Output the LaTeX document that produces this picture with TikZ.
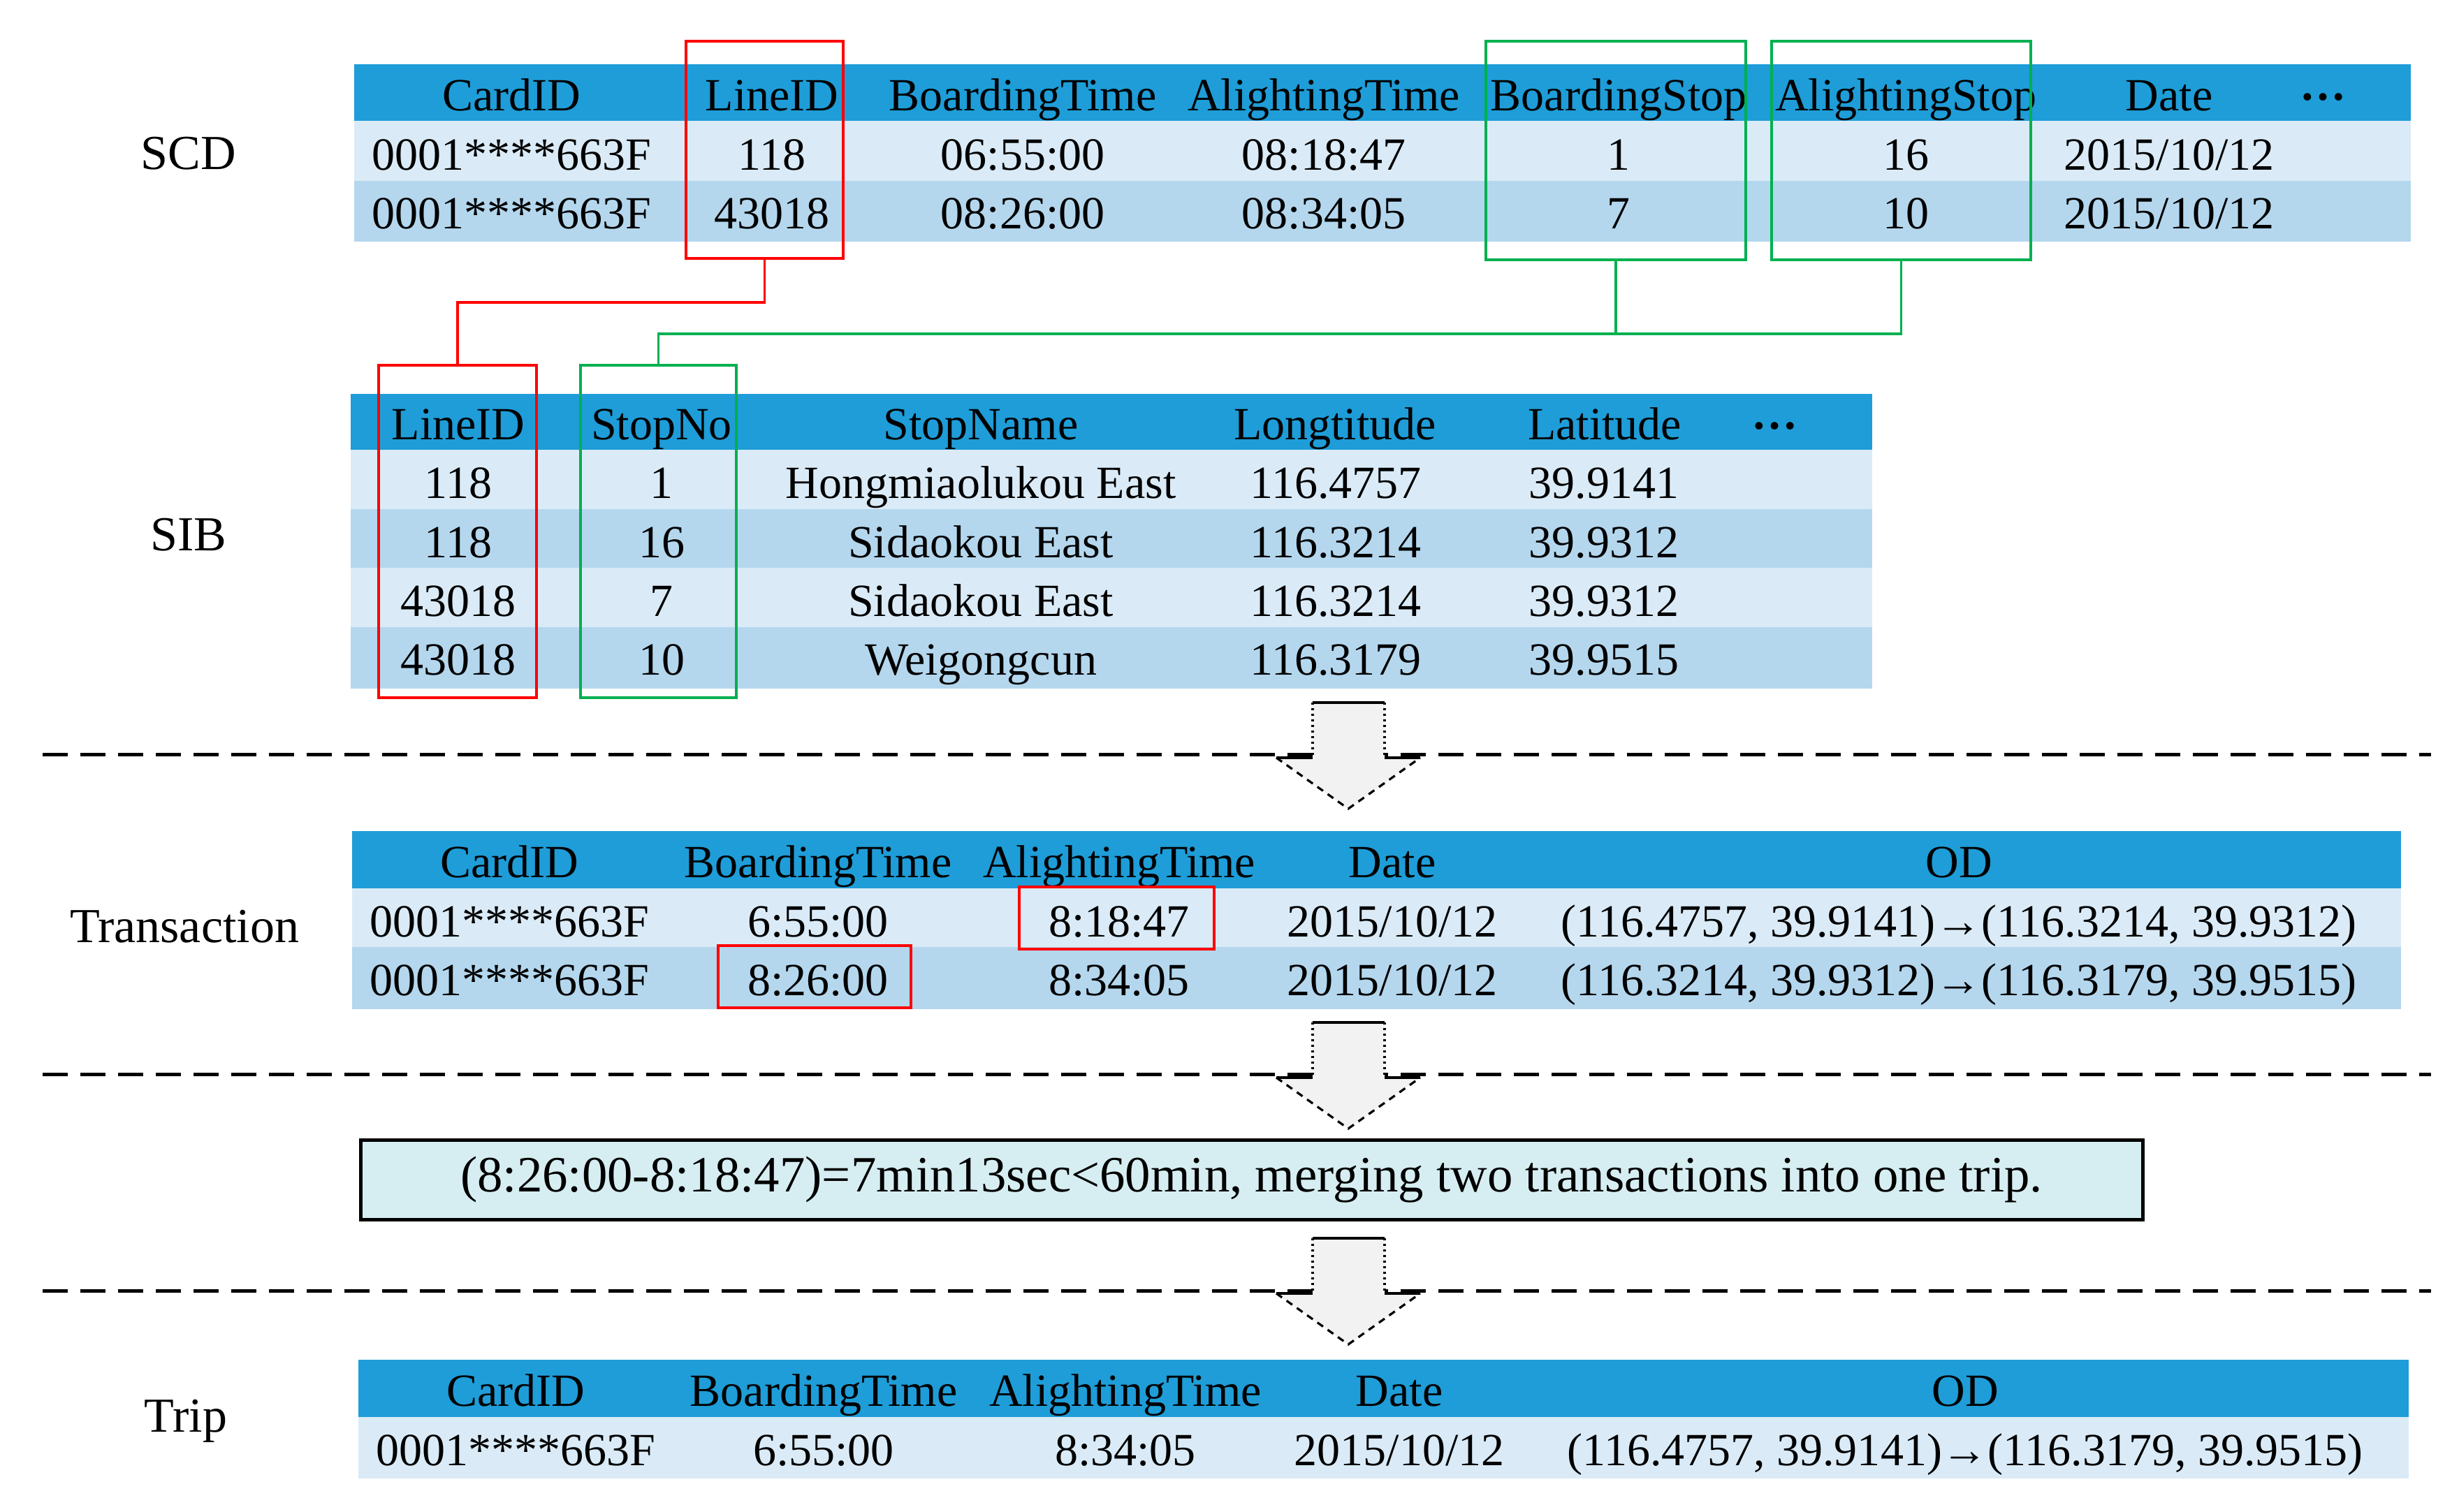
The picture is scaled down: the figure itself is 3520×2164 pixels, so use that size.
\documentclass[tikz,border=0pt]{standalone}
\usepackage{fontspec}
\setmainfont{Liberation Serif}
\usepackage{tikz}
\usetikzlibrary{arrows,shapes.arrows,positioning,shapes,calc}
\definecolor{hdblue}{RGB}{30,157,216}
\definecolor{rowlight}{RGB}{218,235,247}
\definecolor{rowdark}{RGB}{180,215,238}
\definecolor{notecyan}{RGB}{214,238,242}
\definecolor{hlgreen}{RGB}{0,176,80}
\definecolor{hlred}{RGB}{255,0,0}
\definecolor{arrowgray}{RGB}{242,242,242}

\begin{document}
\begin{tikzpicture}[x = .25pt, y = -.25pt, every node/.style={anchor = base, font = \fontsize{16.5}{19}\selectfont, inner sep = 0pt},
  hlbox/.style={draw, line width = 1pt, anchor = center, inner sep = 0pt, outer sep = 0pt},
  lbl/.style={font = \fontsize{17.5}{21}\selectfont},
  more/.style={font = \fontsize{16.5}{19}\bfseries},
  sep/.style={line width = 1.25pt, dash pattern = on 9pt off 4.5pt}]
\useasboundingbox (0,0) rectangle (3520,2164);

% SCD table
\fill[hdblue] (507,92) rectangle (3451,173);
\fill[rowlight] (507,173) rectangle (3451,259);
\fill[rowdark] (507,259) rectangle (3451,346);
\node[lbl] (scd) at (270,242) {SCD};
\node (scdh1) at (732,158) {CardID};
\node (scdh2) at (1105,158) {LineID};
\node (scdh3) at (1464,158) {BoardingTime};
\node (scdh4) at (1895,158) {AlightingTime};
\node (scdh5) at (2317,158) {BoardingStop};
\node (scdh6) at (2728,158) {AlightingStop};
\node (scdh7) at (3105,158) {Date};
\node[more] (scdh8) at (3325,158) {\raisebox{.22em}{…}};
\node (scd11) at (732,243) {0001****663F};
\node (scd12) at (1105,243) {118};
\node (scd13) at (1464,243) {06:55:00};
\node (scd14) at (1895,243) {08:18:47};
\node (scd15) at (2317,243) {1};
\node (scd16) at (2728,243) {16};
\node (scd17) at (3105,243) {2015/10/12};
\node (scd21) at (732,327) {0001****663F};
\node (scd22) at (1105,327) {43018};
\node (scd23) at (1464,327) {08:26:00};
\node (scd24) at (1895,327) {08:34:05};
\node (scd25) at (2317,327) {7};
\node (scd26) at (2728,327) {10};
\node (scd27) at (3105,327) {2015/10/12};

% SIB table
\fill[hdblue] (502,564) rectangle (2680,644);
\fill[rowlight] (502,644) rectangle (2680,729);
\fill[rowdark] (502,729) rectangle (2680,813);
\fill[rowlight] (502,813) rectangle (2680,898);
\fill[rowdark] (502,898) rectangle (2680,986);
\node[lbl] (sib) at (270,788) {SIB};
\node (sibh1) at (656,629) {LineID};
\node (sibh2) at (947,629) {StopNo};
\node (sibh3) at (1404,629) {StopName};
\node (sibh4) at (1911,629) {Longtitude};
\node (sibh5) at (2297,629) {Latitude};
\node[more] (sibh6) at (2540,629) {\raisebox{.22em}{…}};
\node (sib11) at (656,713) {118};
\node (sib12) at (947,713) {1};
\node (sib13) at (1404,713) {Hongmiaolukou East};
\node (sib14) at (1912,713) {116.4757};
\node (sib15) at (2296,713) {39.9141};
\node (sib21) at (656,798) {118};
\node (sib22) at (947,798) {16};
\node (sib23) at (1404,798) {Sidaokou East};
\node (sib24) at (1912,798) {116.3214};
\node (sib25) at (2296,798) {39.9312};
\node (sib31) at (656,882) {43018};
\node (sib32) at (947,882) {7};
\node (sib33) at (1404,882) {Sidaokou East};
\node (sib34) at (1912,882) {116.3214};
\node (sib35) at (2296,882) {39.9312};
\node (sib41) at (656,966) {43018};
\node (sib42) at (947,966) {10};
\node (sib43) at (1404,966) {Weigongcun};
\node (sib44) at (1912,966) {116.3179};
\node (sib45) at (2296,966) {39.9515};

% linking boxes
\node[hlbox, hlred, minimum width = 56.25pt, minimum height = 77.75pt] (scdline) at (1094.5,214.5) {};
\node[hlbox, hlgreen, minimum width = 93pt, minimum height = 78.25pt] (scdbstop) at (2313,215.5) {};
\node[hlbox, hlgreen, minimum width = 92.75pt, minimum height = 78.25pt] (scdastop) at (2721.5,215.5) {};
\node[hlbox, hlred, minimum width = 56.5pt, minimum height = 119pt] (sibline) at (655,761) {};
\node[hlbox, hlgreen, minimum width = 55.75pt, minimum height = 119pt] (sibstop) at (942.5,761) {};
\draw[hlred, line width = .8pt] (scdline.south) -- ++(0,63) -| (sibline.north);
\draw[hlgreen, line width = .8pt] (scdastop.south) -- ++(0,106) -| (sibstop.north);
\draw[hlgreen, line width = .8pt] (scdbstop.south) -- ++(0,106);

% separators
\draw[sep] (61,1080) -- (3480,1080);
\draw[sep] (61,1538) -- (3480,1538);
\draw[sep] (61,1848) -- (3480,1848);

% down arrows
\fill[arrowgray] (1879,1006) -- (1982,1006) -- (1982,1085) -- (2033,1085) -- (1930,1158) -- (1827,1085) -- (1879,1085) -- cycle;
\draw[thick] (1879,1006) -- (1982,1006) (1827,1085) -- (1879,1085) (1982,1085) -- (2033,1085);
\draw[thick, dash pattern = on .8pt off 1.2pt] (1879,1006) -- (1879,1085) (1982,1006) -- (1982,1085);
\draw[thick, dash pattern = on 2.5pt off 2pt] (1827,1085) -- (1930,1158) -- (2033,1085);
\fill[arrowgray] (1879,1464) -- (1982,1464) -- (1982,1543) -- (2033,1543) -- (1930,1616) -- (1827,1543) -- (1879,1543) -- cycle;
\draw[thick] (1879,1464) -- (1982,1464) (1827,1543) -- (1879,1543) (1982,1543) -- (2033,1543);
\draw[thick, dash pattern = on .8pt off 1.2pt] (1879,1464) -- (1879,1543) (1982,1464) -- (1982,1543);
\draw[thick, dash pattern = on 2.5pt off 2pt] (1827,1543) -- (1930,1616) -- (2033,1543);
\fill[arrowgray] (1879,1773) -- (1982,1773) -- (1982,1852) -- (2033,1852) -- (1930,1925) -- (1827,1852) -- (1879,1852) -- cycle;
\draw[thick] (1879,1773) -- (1982,1773) (1827,1852) -- (1879,1852) (1982,1852) -- (2033,1852);
\draw[thick, dash pattern = on .8pt off 1.2pt] (1879,1773) -- (1879,1852) (1982,1773) -- (1982,1852);
\draw[thick, dash pattern = on 2.5pt off 2pt] (1827,1852) -- (1930,1925) -- (2033,1852);

% Transaction table
\fill[hdblue] (504,1190) rectangle (3437,1272);
\fill[rowlight] (504,1272) rectangle (3437,1356);
\fill[rowdark] (504,1356) rectangle (3437,1445);
\node[lbl] (trans) at (264,1349) {Transaction};
\node (trh1) at (729,1256) {CardID};
\node (trh2) at (1171,1256) {BoardingTime};
\node (trh3) at (1602,1256) {AlightingTime};
\node (trh4) at (1993,1256) {Date};
\node (trh5) at (2804,1256) {OD};
\node (tr11) at (729,1341) {0001****663F};
\node (tr12) at (1171,1341) {6:55:00};
\node (tr13) at (1602,1341) {8:18:47};
\node (tr14) at (1993,1341) {2015/10/12};
\node (tr15) at (2804,1341) {(116.4757, 39.9141)→(116.3214, 39.9312)};
\node (tr21) at (729,1425) {0001****663F};
\node (tr22) at (1171,1425) {8:26:00};
\node (tr23) at (1602,1425) {8:34:05};
\node (tr24) at (1993,1425) {2015/10/12};
\node (tr25) at (2804,1425) {(116.3214, 39.9312)→(116.3179, 39.9515)};
\node[hlbox, hlred, minimum width = 69.75pt, minimum height = 22.25pt] (tralight) at (1598.5,1314.5) {};
\node[hlbox, hlred, minimum width = 69pt, minimum height = 22.25pt] (trboard) at (1166,1398.5) {};

% merging rule
\node[hlbox, line width = 1.25pt, fill = notecyan, minimum width = 637.75pt, minimum height = 28.5pt, font = \fontsize{18.2}{21}\selectfont] (rule) at (1791.5,1689) {(8:26:00-8:18:47)=7min13sec<60min, merging two transactions into one trip.};

% Trip table
\fill[hdblue] (513,1947) rectangle (3448,2029);
\fill[rowlight] (513,2029) rectangle (3448,2117);
\node[lbl] (trip) at (266,2050) {Trip};
\node (tph1) at (738,2013) {CardID};
\node (tph2) at (1179,2013) {BoardingTime};
\node (tph3) at (1611,2013) {AlightingTime};
\node (tph4) at (2003,2013) {Date};
\node (tph5) at (2813,2013) {OD};
\node (tp11) at (738,2098) {0001****663F};
\node (tp12) at (1179,2098) {6:55:00};
\node (tp13) at (1611,2098) {8:34:05};
\node (tp14) at (2003,2098) {2015/10/12};
\node (tp15) at (2813,2098) {(116.4757, 39.9141)→(116.3179, 39.9515)};
\end{tikzpicture}
\end{document}
